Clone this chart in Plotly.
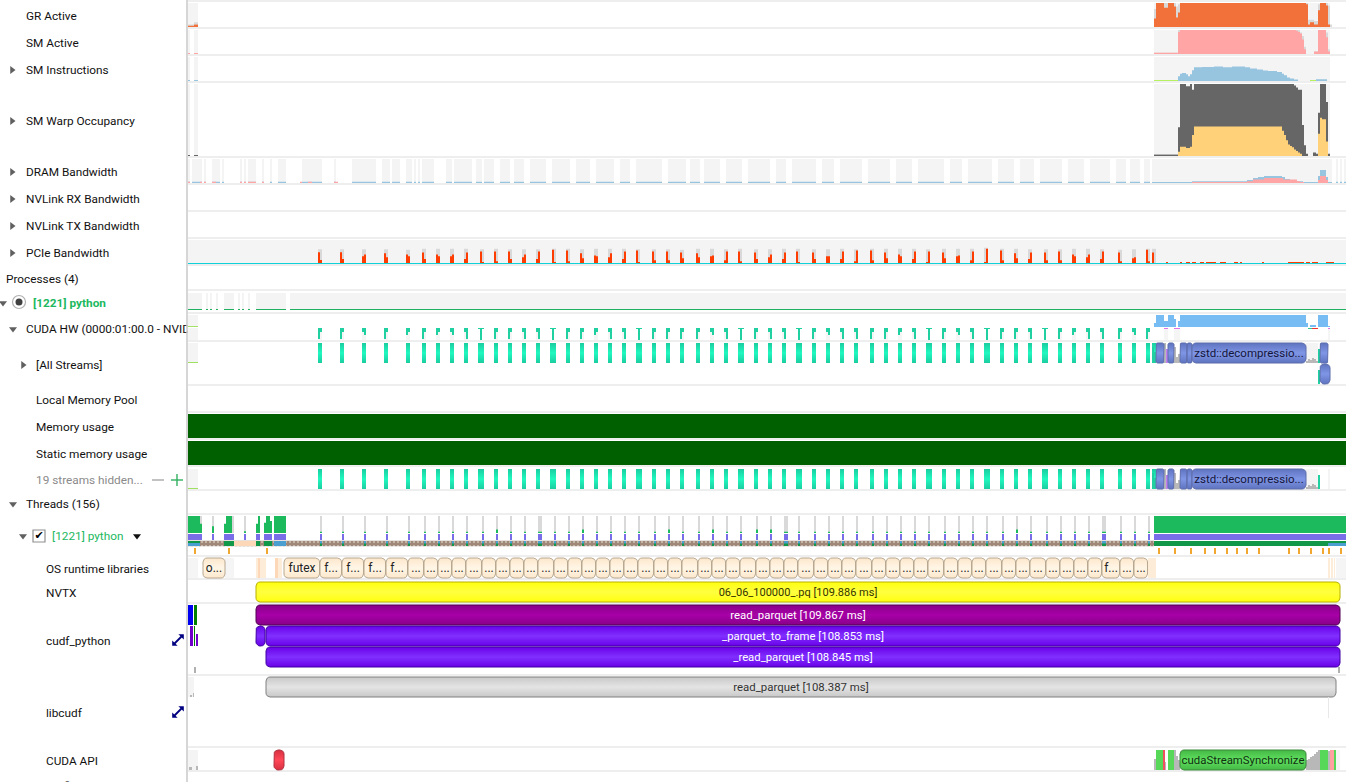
import math
import plotly.graph_objects as go

# timeline rows, top and bottom on the y axis
ROW = {
    "gr": (3, 27), "sm": (30, 54), "inst": (57, 81), "warp": (84, 156),
    "dram": (159, 183), "pcie": (240, 263), "proc": (293, 309),
    "hw": (315, 327), "hw2": (328, 340), "all": (343, 363), "all2": (364, 384),
    "hidden": (469, 489), "tgreen": (516, 533), "tpurple": (534, 540),
    "tband": (541, 546), "ticks": (548, 554), "os": (558, 578),
    "nvtx": (582, 602), "cudf1": (605, 625), "cudf2": (626, 646), "cudf3": (647, 667),
    "lib": (677, 697), "api": (750, 770),
}
separators = [1, 28, 55, 82, 157, 184, 211, 238, 265, 290, 313, 341, 385, 412, 439, 466, 490, 514, 556, 579, 603, 675, 747, 771]

row_labels = ["GR Active", "SM Active", "SM Instructions", "SM Warp Occupancy", "DRAM Bandwidth",
              "NVLink RX Bandwidth", "NVLink TX Bandwidth", "PCIe Bandwidth", "Processes (4)", "[1221] python",
              "[All Streams]", "Local Memory Pool", "Memory usage",
              "Static memory usage", "19 streams hidden...", "Threads (156)", "[1221] python",
              "OS runtime libraries", "NVTX", "cudf_python", "libcudf", "CUDA API", "Profiler overhead"]
label_x = [26, 26, 26, 26, 26, 26, 26, 26, 6, 33, 36, 36, 36, 36, 36, 26, 52, 46, 46, 46, 46, 46, 46]
label_y = [16.7, 43.7, 70.7, 121.7, 172.7, 199.7, 226.7, 253.7, 279.7, 303.7, 365.7, 400.7, 427.7, 454.7, 480.7, 504.7,
           536.7, 569.7, 593.7, 641.7, 713.7, 761.7, 787]
label_color = ["#111"] * 23
label_color[9] = "#1cb860"
label_color[14] = "#8a8a8a"
label_color[16] = "#1cb860"
label_color[22] = "#666"
hw_label = "CUDA HW (0000:01:00.0 - NVID"

closed_arrows_x = [12, 12, 12, 12, 12, 12, 23]
closed_arrows_y = [70, 121, 172, 199, 226, 253, 365]
open_arrows_x = [3, 13, 13, 23, 137]
open_arrows_y = [303, 329, 504, 536, 536]

# transfers across the run: left edge, then level of the two columns in each spike
spike_x = [318, 340, 362, 384, 406, 422, 436, 450, 464, 480, 494, 508, 522, 536, 552, 566, 580, 594,
           608, 622, 636, 652, 666, 680, 696, 710, 724, 738, 754, 768, 782, 796, 812, 826, 840, 854,
           870, 884, 898, 912, 926, 942, 956, 970, 984, 1000, 1014, 1028, 1044, 1058, 1072, 1086,
           1100, 1118, 1132, 1146, 1152]
pcie_col1 = [.47, .47, .29, .42, .37, .46, .37, .29, .17, .5, .5, .5, .25, .17, .58, .54, .42, .33,
             .25, .17, .54, .5, .5, .46, .42, .29, .12, .5, .46, .25, .17, .5, .46, .29, .17, .08,
             .54, .46, .37, .17, .04, .46, .29, .12, .04, .54, .42, .17, .46, .5, .37, .25,
             .17, .46, .21, .58, .46]
pcie_col2 = [.13, .17, .37, .25, .29, .17, .29, .37, .46, .04, .08, .17, .37, .5, .04, .08, .21, .29,
             .42, .5, .04, .12, .12, .21, .25, .33, .5, .08, .17, .37, .46, .04, .17, .29, .5, .54,
             .12, .21, .29, .5, .5, .21, .33, .5, .62, .12, .21, .46, .12, .12, .29, .37,
             .5, .08, .25, .08, .02]
pcie_peak = [.6, .6, .6, .6, .58, .62, .62, .62, .62, .6, .62, .6, .6, .6, .62, .62, .6, .62,
             .62, .62, .6, .6, .6, .58, .62, .62, .6, .62, .6, .6, .62, .62, .6, .6, .62, .6,
             .62, .62, .62, .62, .6, .62, .62, .62, .66, .62, .62, .6, .6, .6, .62, .62,
             .6, .58, .6, .62, .62]
pcie_tick_x0 = [1166, 1180, 1186, 1192, 1200, 1206, 1220, 1234, 1240, 1262, 1288, 1306, 1312, 1326]
pcie_tick_x1 = [1168, 1182, 1190, 1196, 1204, 1216, 1226, 1238, 1242, 1264, 1304, 1310, 1318, 1334]

# spikes whose kernel row is wider, with their real start
wide_spikes = {480: 478, 552: 550, 636: 636, 738: 738, 796: 796, 926: 926, 984: 984, 1044: 1042}

# GPU metrics on the right, level per bucket
gr_edges = [1154, 1156, 1164, 1168, 1174, 1176, 1178, 1180, 1306, 1308, 1310, 1314, 1318, 1320, 1326, 1328, 1330, 1332]
gr_level = [.35, 1, .8, 1, .85, .4, .6, 1, .95, .1, .2, .1, .7, 1, .9, .1, .03]
gr_peak = [.75, 1, 1, 1, 1, .85, .95, 1, 1, .3, .3, .25, .95, 1, 1, .9, .1]

sm_edges = [1154, 1178, 1180, 1296, 1298, 1300, 1302, 1304, 1306, 1314, 1318, 1326, 1328, 1330]
sm_level = [.05, .92, 1, .97, .92, .85, .6, .2, .03, .1, 1, .7, .1]
sm_peak = [.05, 1, 1, 1, 1, .9, .75, .3, .03, .1, 1, .9, .2]

inst_edges = [1178, 1180, 1182, 1186, 1188, 1190, 1192, 1194, 1202, 1214, 1223, 1232, 1245, 1250, 1257,
              1263, 1268, 1277, 1282, 1284, 1287, 1290, 1294, 1298, 1316, 1327, 1330]
inst_level = [.2, .3, .33, .28, .2, .28, .45, .57, .58, .6, .57, .6, .57, .52, .48, .44, .42, .38, .3,
              .24, .15, .1, .06, .03, .07, .03]

warp_edges = [1178, 1180, 1186, 1190, 1192, 1194, 1294, 1296, 1298, 1302, 1304, 1306, 1308, 1310, 1313,
              1316, 1318, 1320, 1326, 1328, 1330]
warp_dark = [.4, 1, .97, 1, .92, 1, .98, .95, .92, .43, .15, .03, .01, 0, .05, .03, .6, 1, .75, .03]
warp_fill_edges = [1178, 1180, 1186, 1190, 1192, 1194, 1282, 1284, 1286, 1288, 1290, 1292, 1294, 1296,
                   1298, 1300, 1302, 1306, 1310, 1316, 1318, 1320, 1322, 1326, 1328]
warp_fill = [.06, .13, .11, .13, .29, .41, .35, .29, .22, .16, .14, .12, .09, .07, .05, .03, .01, 0, .01,
             0, .31, .53, .51, .2]

dram_blue_edges = [1152, 1192, 1247, 1253, 1258, 1264, 1282, 1285, 1290, 1297, 1303, 1318, 1320, 1326, 1328, 1332]
dram_blue = [.04, .07, .125, .21, .25, .29, .25, .17, .125, .07, .04, .29, .54, .25, .04]
dram_pink_edges = [1192, 1247, 1253, 1264, 1283, 1297, 1300, 1304, 1318, 1320, 1326, 1328]
dram_pink = [.04, .07, .15, .21, .15, .07, .04, 0, .125, .29, .125]

dram_x0 = [188, 192, 204, 212, 222, 240, 244, 248, 262, 270, 278, 304, 304, 334, 352, 368, 382, 392, 406, 414, 418, 422,
           446, 454, 476, 484, 500, 514, 530, 552, 576, 596, 620, 636, 668, 690, 704, 726, 748, 776, 792, 822, 840, 868,
           896, 918, 950, 968, 998, 1020, 1040, 1068, 1090, 1116, 1130, 1144, 1152, 1336, 1340, 1344]
dram_x1 = [190, 202, 206, 220, 224, 242, 246, 256, 264, 272, 286, 302, 322, 336, 372, 376, 390, 400, 412, 416, 420, 434,
           452, 472, 482, 494, 510, 524, 546, 570, 590, 614, 630, 662, 686, 700, 720, 742, 770, 786, 816, 834, 862, 890,
           912, 944, 962, 992, 1014, 1034, 1062, 1084, 1110, 1126, 1140, 1150, 1332, 1338, 1342, 1346]
dram_pink_x0 = [188, 200, 204, 212, 240, 244, 248, 262, 300, 308, 334]
dram_pink_x1 = [190, 202, 206, 216, 242, 246, 256, 264, 302, 312, 338]

proc_x0 = [188, 206, 210, 216, 224, 238, 242, 248, 256, 290]
proc_x1 = [202, 208, 212, 218, 234, 240, 244, 250, 286, 1346]

hw_blue_edges = [1154, 1156, 1164, 1168, 1174, 1176, 1178, 1180, 1306, 1308, 1310, 1316, 1318, 1328, 1330]
hw_blue = [.33, 1, .5, 1, .67, 0, .5, 1, .33, 0, .17, 0, 1, .08]
hw_mark_x0 = [1164, 1174, 1308, 1312, 1328]
hw_mark_x1 = [1168, 1180, 1312, 1318, 1330]
hw_mark_color = ["#e070e8", "#e070e8", "#30c890", "#f03030", "#e070e8"]

kernel_x0 = [1156, 1168, 1180, 1187, 1320]
kernel_x1 = [1164, 1174, 1187, 1192, 1328]
copy_x0 = [1152, 1154, 1318]
copy_x1 = [1154, 1156, 1320]
copy_level = [.8, .55, .7]
copy_gray_x0 = [1164, 1174, 1176, 1178]
copy_gray_x1 = [1166, 1176, 1178, 1180]
copy_gray_level = [1, .8, .3, .45]
grass_edges = [1306, 1308, 1310, 1312, 1314, 1316, 1318]
grass_level = [.1, .2, .15, .25, .2, .1]

# CPU thread row
thread_x = [x + 2 for x in spike_x]
thread_tall = [496, 582, 668, 712, 728, 742, 756, 770, 800, 844, 930, 1016, 1104]
thread_wide = [538, 784, 844, 1102]
busy_x0 = [188, 200, 212, 224, 226, 244, 256, 258, 264, 266, 270, 274, 1154]
busy_x1 = [200, 202, 214, 226, 232, 246, 258, 260, 266, 270, 272, 286, 1346]
busy_level = [1, .55, .4, .55, 1, .1, .55, 1, .6, 1, .7, 1, 1]
idle_gray_x0 = [200, 212, 232, 244, 1148]
idle_gray_x1 = [202, 214, 234, 246, 1150]
cpu_x0 = [188, 212, 224, 244, 256, 264, 274, 1148, 1154]
cpu_x1 = [202, 214, 234, 246, 260, 272, 286, 1150, 1346]
band_x0 = [188, 224, 256, 264, 274, 1154]
band_x1 = [200, 234, 260, 272, 286, 1346]
sample_ticks = [194, 228, 266, 1158, 1174, 1190, 1204, 1214, 1226, 1236, 1246, 1258, 1288, 1298, 1310, 1322, 1328, 1340]

# OS runtime calls
os_edges = [284] + thread_x[:56]
os_labels = ["futex", "f...", "f...", "f...", "f..."] + ["..."] * 56
os_labels[thread_x.index(1102) + 1] = "f..."
os_gray_x0 = [188, 225, 1336]
os_gray_x1 = [198, 234, 1346]
os_peach_x0 = [256, 262, 275, 1148, 1328, 1331, 1334]
os_peach_x1 = [266, 264, 282, 1156, 1330, 1333, 1335]

# ranges with their names
nvtx_name = "06_06_100000_.pq [109.886 ms]"
nvtx_span = (256, 1340)
cudf_names = ["read_parquet [109.867 ms]", "_parquet_to_frame [108.853 ms]", "_read_parquet [108.845 ms]"]
cudf_x0 = [256, 266, 266]
cudf_x1 = [1340, 1340, 1340]
libcudf_name = "read_parquet [108.387 ms]"
libcudf_span = (266, 1336)
zstd_name = "zstd::decompressio..."
zstd_span = (1192, 1306)
sync_name = "cudaStreamSynchronize"
sync_span = (1180, 1306)

api_green_x0 = [1156, 1168, 1320, 1334]
api_green_x1 = [1164, 1174, 1328, 1336]
api_gray_edges = [1154, 1156, 1164, 1166, 1174, 1176, 1178, 1180, 1306, 1308, 1310, 1312, 1314, 1316, 1318, 1320, 1328, 1330]
api_gray = [.55, 0, .4, 0, 1, .7, .5, 0, .5, .55, .65, .7, .8, .9, 1, 0, .95, 0]

FONT = "Roboto"
LABEL_SIZE = 11.8


def level_y(row, level):
    top, bottom = ROW[row]
    return bottom - level * (bottom - top)


def boxes(x0s, x1s, tops, bottoms):
    xs, ys = [], []
    for a, b, t, u in zip(x0s, x1s, tops, bottoms):
        xs += [a, b, b, a, a, None]
        ys += [t, t, u, u, t, None]
    return xs, ys


def rounded(x0s, x1s, top, bottom, r=4):
    xs, ys = [], []
    for a, b in zip(x0s, x1s):
        rr = min(r, (b - a) / 2)
        for cx, cy, start in [(b - rr, top + rr, -90), (b - rr, bottom - rr, 0), (a + rr, bottom - rr, 90), (a + rr, top + rr, 180)]:
            for k in range(5):
                ang = math.radians(start + k * 22.5)
                xs.append(cx + rr * math.cos(ang))
                ys.append(cy + rr * math.sin(ang))
        xs += [xs[-20], None]
        ys += [ys[-20], None]
    return xs, ys


fig = go.Figure()


def fill(xs, ys, color, line=None, grad=None, top=None, bottom=None):
    args = dict(x=xs, y=ys, mode="lines", fill="toself", fillcolor=color, hoverinfo="skip", showlegend=False,
                line=dict(width=1 if line else 0, color=line or color))
    if grad:
        args["fillgradient"] = dict(type="vertical", start=top, stop=bottom,
                                    colorscale=[[0, grad[0]], [.5, grad[1]], [1, grad[0]]])
    fig.add_trace(go.Scatter(**args))


def blocks(x0s, x1s, row, color, levels=None):
    bottom = ROW[row][1]
    tops = [level_y(row, v) for v in levels] if levels else [ROW[row][0]] * len(x0s)
    xs, ys = boxes(x0s, x1s, tops, [bottom] * len(x0s))
    fill(xs, ys, color)


def steps(edges, levels, row, color):
    blocks(edges[:-1], edges[1:], row, color, levels)


# this label runs under the gutter, so it goes first and gets covered
fig.add_trace(go.Scatter(x=[26], y=[329.7], text=[hw_label], mode="text", textposition="middle right",
                         hoverinfo="skip", showlegend=False, textfont=dict(family=FONT, size=LABEL_SIZE, color="#111")))
xs, ys = boxes([187.5], [205], [320], [338])
fill(xs, ys, "#ffffff")

# row separators and gutter
fig.add_trace(go.Scatter(x=sum([[188, 1346, None] for _ in separators], []),
                         y=sum([[s, s, None] for s in separators], []), mode="lines",
                         line=dict(color="#e8e8e8", width=1.5), hoverinfo="skip", showlegend=False))
fig.add_trace(go.Scatter(x=[187, 187], y=[0, 782], mode="lines", line=dict(color="#c8c8c8", width=1.5),
                         hoverinfo="skip", showlegend=False))

# gray backgrounds of the metric rows
for row in ["gr", "sm", "inst", "warp"]:
    blocks([188, 194, 1154], [190, 198, 1330], row, "#f4f4f4")
blocks(dram_x0, dram_x1, "dram", "#f4f4f4")
blocks([188], [1346], "pcie", "#f4f4f4")
blocks(proc_x0, proc_x1, "proc", "#f4f4f4")

# left edge, start of the capture
blocks([188], [198], "gr", "#f4f4f4")
blocks([188, 194], [194, 198], "gr", "#d9d9d9", [.1, .2])
blocks([188], [198], "gr", "#f2703a", [.05])
blocks([194], [198], "gr", "#f2703a", [.1])
blocks([188, 194], [190, 198], "sm", "#ffa5a5", [.04, .04])
blocks([188, 194], [190, 198], "inst", "#97c4df", [.04, .04])
blocks([188, 194], [190, 198], "warp", "#666666", [.015, .015])

# GPU metrics
steps(gr_edges, gr_peak, "gr", "#d9d9d9")
steps(gr_edges, gr_level, "gr", "#f2703a")
steps(sm_edges, sm_peak, "sm", "#d9d9d9")
steps(sm_edges, sm_level, "sm", "#ffa5a5")
blocks([1154, 1310], [1178, 1316], "inst", "#b4f060", [.04, .04])
steps(inst_edges, inst_level, "inst", "#97c4df")
steps([1154, 1178], [.02], "warp", "#666666")
steps(warp_edges, warp_dark, "warp", "#666666")
steps(warp_fill_edges, warp_fill, "warp", "#ffd27a")
blocks(dram_x0[:-4], dram_x1[:-4], "dram", "#97c4df", [.05] * (len(dram_x0) - 4))
blocks(dram_x0[-3:], dram_x1[-3:], "dram", "#97c4df", [.05] * 3)
blocks(dram_pink_x0, dram_pink_x1, "dram", "#ffa5a5", [.05] * len(dram_pink_x0))
steps(dram_blue_edges, dram_blue, "dram", "#97c4df")
steps(dram_pink_edges, dram_pink, "dram", "#ffa5a5")

# PCIe spikes
blocks(spike_x, [x + 4 for x in spike_x], "pcie", "#d9d9d9", pcie_peak)
blocks(spike_x, [x + 2 for x in spike_x], "pcie", "#ff3c00", pcie_col1)
blocks([x + 2 for x in spike_x], [x + 4 for x in spike_x], "pcie", "#ff3c00", pcie_col2)
blocks(pcie_tick_x0, pcie_tick_x1, "pcie", "#ff3c00", [.04] * len(pcie_tick_x0))
fig.add_trace(go.Scatter(x=[188, 1346], y=[263.5, 263.5], mode="lines", line=dict(color="#10d0d8", width=1.2),
                         hoverinfo="skip", showlegend=False))
xs, ys = boxes(proc_x0, proc_x1, [309] * len(proc_x0), [310] * len(proc_x0))
fill(xs, ys, "#20b060")

# memory rows
xs, ys = boxes([188, 188], [1346, 1346], [414, 441], [438, 465])
fill(xs, ys, "#006000")

# CUDA HW, start of the capture
for row in ["hw", "hw2", "all", "hidden"]:
    blocks([188], [198], row, "#f4f4f4")
blocks([188], [198], "hw", "#a0e060", [.08])
blocks([188], [198], "all", "#a0e060", [.05])
blocks([188], [198], "hidden", "#a0e060", [.05])

# CUDA HW, kernels and copies
hw_x0 = [wide_spikes.get(x, x) for x in spike_x]
hw_x1 = [wide_spikes[x] + 6 if x in wide_spikes else x + 4 for x in spike_x]
narrow = [x for x in spike_x if x not in wide_spikes][:-1]
narrow_1 = [pcie_col1[spike_x.index(x)] for x in narrow]
narrow_2 = [pcie_col2[spike_x.index(x)] for x in narrow]
xs, ys = boxes(narrow, [x + 4 for x in narrow], [332] * len(narrow), [340] * len(narrow))
fill(xs, ys, "#f5f5f5")
xs, ys = boxes(narrow, [x + 4 for x in narrow], [328] * len(narrow), [332] * len(narrow))
fill(xs, ys, "#20d0a0")
col_x = [x if a > b else x + 2 for x, a, b in zip(narrow, narrow_1, narrow_2)]
col_end = [339 if abs(a - b) > .1 else 335 for a, b in zip(narrow_1, narrow_2)]
xs, ys = boxes(col_x, [x + 2 for x in col_x], [332] * len(col_x), col_end)
fill(xs, ys, "#20d0a0")
wide_start = list(wide_spikes.values())
xs, ys = boxes(wide_start, [x + 6 for x in wide_start], [328] * 8, [329] * 8)
fill(xs, ys, "#20d0a0")
xs, ys = boxes([x + 2 for x in wide_start], [x + 4 for x in wide_start], [329] * 8, [340] * 8)
fill(xs, ys, "#20d0a0")
for row in ["all", "hidden"]:
    top, bottom = ROW[row]
    xs, ys = boxes(hw_x0, hw_x1, [top] * len(hw_x0), [bottom] * len(hw_x0))
    fill(xs, ys, "#20e0b0", grad=("#1bcda0", "#20f8c0"), top=top, bottom=bottom)

steps(hw_blue_edges, hw_blue, "hw", "#78bcf4")
for a, b, c in zip(hw_mark_x0, hw_mark_x1, hw_mark_color):
    xs, ys = boxes([a], [b], [328], [329])
    fill(xs, ys, c)
blocks([1164, 1174, 1328], [1168, 1180, 1330], "hw2", "#f5f5f5", [.9, .9, .9])
blocks([1306], [1318], "all", "#f4f4f4")
blocks([1306], [1318], "hidden", "#f4f4f4")
for row in ["all", "hidden"]:
    blocks(copy_gray_x0, copy_gray_x1, row, "#b8b8b8", copy_gray_level)
    blocks(copy_x0, copy_x1, row, "#20d0a0", copy_level)
    blocks([1166], [1168], row, "#c080f0", [.7])
    steps(grass_edges, grass_level, row, "#b8b8b8")
    top, bottom = ROW[row]
    count = 5 if row == "all" else 4
    xs, ys = rounded(kernel_x0[:count], kernel_x1[:count], top, bottom, r=1.5)
    fill(xs, ys, "#7088d8", line="#5c6cac", grad=("#5f74c0", "#7f96e6"), top=top, bottom=bottom)
    xs, ys = rounded([zstd_span[0]], [zstd_span[1]], top, bottom, r=4)
    fill(xs, ys, "#7088d8", line="#5c6cac", grad=("#5f74c0", "#7f96e6"), top=top, bottom=bottom)
blocks([1318], [1320], "all2", "#20d0a0", [.7])
xs, ys = rounded([1320], [1330], 364, 384, r=4)
fill(xs, ys, "#7088d8", line="#5c6cac", grad=("#5f74c0", "#7f96e6"), top=364, bottom=384)
blocks([1328], [1330], "hidden", "#f4f4f4")

# thread state row
fig.add_trace(go.Bar(y=[543.5], base=[188], x=[966], width=[5.5], orientation="h", showlegend=False, hoverinfo="skip",
                     marker=dict(line=dict(width=0), pattern=dict(shape=".", size=4, solidity=.2, fgcolor="#ffffff",
                                                                  bgcolor="#a08878"))))
blocks(idle_gray_x0, idle_gray_x1, "tgreen", "#d9d9d9")
thread_w = [4 if x in thread_wide else 2 for x in thread_x]
thread_x1 = [x + w for x, w in zip(thread_x, thread_w)]
blocks(thread_x, thread_x1, "tgreen", "#d9d9d9")
blocks(thread_x, thread_x1, "tgreen", "#1cba5c", [.2 if x in thread_tall else .07 for x in thread_x])
blocks(busy_x0, busy_x1, "tgreen", "#1cba5c", busy_level)
blocks(thread_x, thread_x1, "tpurple", "#7a6ee8")
blocks(cpu_x0, cpu_x1, "tpurple", "#7a6ee8")
blocks(thread_x, thread_x1, "tband", "#4a9fd0")
blocks(thread_x, thread_x1, "tband", "#109848", [.5] * len(thread_x))
blocks([234], [258], "tband", "#fdd8b8")
blocks(band_x0, band_x1, "tband", "#109848")
blocks([188, 274, 1328, 1338], [200, 286, 1338, 1346], "tband", "#4a9fd0", [.6, 1, .6, .6])
blocks(sample_ticks, [x + 2 for x in sample_ticks], "ticks", "#f0a830")

# OS runtime libraries
blocks(os_gray_x0, os_gray_x1, "os", "#f5f5f5")
blocks(os_peach_x0, os_peach_x1, "os", "#fdecd8")
blocks([258, 275], [260, 278], "os", "#fdd8b8")
top, bottom = ROW["os"]
xs, ys = rounded([203] + os_edges[:-1], [225] + [e - .5 for e in os_edges[1:]], top, bottom, r=4)
fill(xs, ys, "#fdeed9", line="#b8a890", grad=("#fde7cc", "#fff6e6"), top=top, bottom=bottom)

# ranges
named = [(nvtx_span[0], nvtx_span[1], "nvtx", "#ffff10", "#ffff40", "#b8b000"),
         (cudf_x0[0], cudf_x1[0], "cudf1", "#880088", "#a800a8", "#500050"),
         (cudf_x0[1], cudf_x1[1], "cudf2", "#6a00e8", "#8030ff", "#4000a0"),
         (cudf_x0[2], cudf_x1[2], "cudf3", "#6a00e8", "#8030ff", "#4000a0"),
         (libcudf_span[0], libcudf_span[1], "lib", "#c8c8c8", "#e4e4e4", "#808080")]
for a, b, row, c1, c2, edge in named:
    top, bottom = ROW[row]
    xs, ys = rounded([a], [b], top, bottom, r=4)
    fill(xs, ys, c2, line=edge, grad=(c1, c2), top=top, bottom=bottom)
xs, ys = rounded([256], [265], 626, 646, r=4)
fill(xs, ys, "#8030ff", line="#4000a0", grad=("#6a00e8", "#8030ff"), top=626, bottom=646)

# cudf_python and libcudf at the start of the capture
blocks([188, 194], [193, 197], "cudf1", "#0000f0")
blocks([194], [197], "cudf1", "#008000")
blocks([190, 194, 196], [193, 195, 198], "cudf2", "#7000c8", [1, 1, .6])
blocks([194], [195], "cudf2", "#008000")
blocks([194, 1338], [196, 1340], "cudf3", "#b0b0b0", [-.3, -.3])
blocks([188], [194], "lib", "#f4f4f4")
blocks([190, 193], [192, 194], "lib", "#b8b8b8", [.1, .2])
blocks([1328], [1329], "lib", "#e8e8e8", [-1.05])

# CUDA API
blocks([188], [198], "api", "#f4f4f4")
blocks([189, 196], [192, 198], "api", "#b8b8b8", [.15, .2])
top, bottom = ROW["api"]
steps(api_gray_edges, api_gray, "api", "#b8b8b8")
blocks(api_green_x0, api_green_x1, "api", "#58d858")
blocks([1163], [1165], "api", "#f05060")
blocks([1330], [1334], "api", "#ffa0a0")
blocks([1336], [1340], "api", "#f4f4f4")
xs, ys = rounded([274], [284], top, bottom, r=4)
fill(xs, ys, "#f04050", line="#b03040", grad=("#d83040", "#ff4858"), top=top, bottom=bottom)
xs, ys = rounded([sync_span[0]], [sync_span[1]], top, bottom, r=4)
fill(xs, ys, "#58d858", line="#388838", grad=("#44b844", "#60e060"), top=top, bottom=bottom)

# tree arrows, radio, checkbox and zoom icons
fig.add_trace(go.Scatter(x=closed_arrows_x, y=closed_arrows_y, mode="markers", hoverinfo="skip", showlegend=False,
                         marker=dict(symbol="triangle-right", size=7, color="#606060")))
fig.add_trace(go.Scatter(x=open_arrows_x, y=open_arrows_y, mode="markers", hoverinfo="skip", showlegend=False,
                         marker=dict(symbol="triangle-down", size=7, color=["#606060"] * 4 + ["#111"])))
fig.add_trace(go.Scatter(x=[19], y=[302], mode="markers", hoverinfo="skip", showlegend=False,
                         marker=dict(symbol="circle", size=13, color="#ffffff", line=dict(color="#b0b0b0", width=1.2))))
fig.add_trace(go.Scatter(x=[19], y=[302], mode="markers", hoverinfo="skip", showlegend=False,
                         marker=dict(symbol="circle", size=7, color="#404040")))
fig.add_trace(go.Scatter(x=[39], y=[536], mode="markers+text", text=["✔"], textposition="middle center",
                         textfont=dict(family="DejaVu Sans", size=11, color="#000000"),
                         hoverinfo="skip", showlegend=False,
                         marker=dict(symbol="square", size=12, color="#ffffff", line=dict(color="#909090", width=1.2))))
for y in [640, 712]:
    fig.add_trace(go.Scatter(x=[174.5, 181.5], y=[y + 3.5, y - 3.5], mode="lines", hoverinfo="skip", showlegend=False,
                             line=dict(color="#000080", width=1.8)))
    fig.add_trace(go.Scatter(x=[174, 182], y=[y + 4, y - 4], mode="markers", hoverinfo="skip", showlegend=False,
                             marker=dict(symbol=["triangle-sw", "triangle-ne"], size=6, color="#000080")))
fig.add_trace(go.Scatter(x=[152, 164], y=[480, 480], mode="lines", hoverinfo="skip", showlegend=False,
                         line=dict(color="#a8a8a8", width=1.4)))
fig.add_trace(go.Scatter(x=[171, 183, None, 177, 177], y=[480, 480, None, 474, 486], mode="lines", hoverinfo="skip",
                         showlegend=False, line=dict(color="#30b060", width=1.4)))

# texts
fig.add_trace(go.Scatter(x=label_x, y=label_y, text=row_labels, mode="text", textposition="middle right",
                         hoverinfo="skip", showlegend=False,
                         textfont=dict(family=FONT, size=LABEL_SIZE, color=label_color,
                                       weight=["bold" if i == 9 else "normal" for i in range(len(row_labels))])))
os_mid_x = [214] + [(a + b) / 2 for a, b in zip(os_edges[:-1], os_edges[1:])]
fig.add_trace(go.Scatter(x=os_mid_x, y=[569] * len(os_mid_x), text=["o..."] + os_labels[:len(os_mid_x) - 1], mode="text",
                         textposition="middle center", hoverinfo="skip", showlegend=False,
                         textfont=dict(family=FONT, size=12, color="#222222")))
names = [nvtx_name] + cudf_names + [libcudf_name, zstd_name, zstd_name, sync_name]
name_x = [798, 798, 803, 803, 801, 1249, 1249, 1243]
name_y = [593, 616, 637, 658, 688, 354, 480, 761]
name_color = ["#333300", "#ffffff", "#ffffff", "#ffffff", "#333333", "#15153a", "#15153a", "#103010"]
name_size = [11, 11.4, 11.3, 11.3, 11.4, 11.5, 11.5, 11.4]
fig.add_trace(go.Scatter(x=name_x, y=name_y, text=names, mode="text", textposition="middle center",
                         hoverinfo="skip", showlegend=False,
                         textfont=dict(family=FONT, size=name_size, color=name_color)))

fig.update_xaxes(visible=False, range=[0, 1346], fixedrange=True)
fig.update_yaxes(visible=False, range=[782, 0], fixedrange=True)
fig.update_layout(width=1346, height=782, margin=dict(l=0, r=0, t=0, b=0), plot_bgcolor="#ffffff",
                  paper_bgcolor="#ffffff", showlegend=False)

fig.write_html("out.html", config={"displayModeBar": False},
               post_script="document.body.style.margin='0';document.body.style.overflow='hidden';")
